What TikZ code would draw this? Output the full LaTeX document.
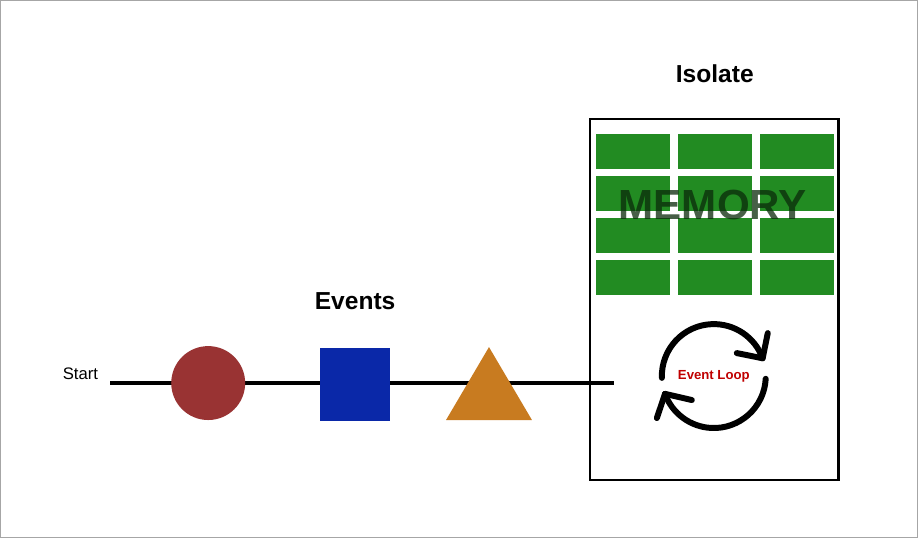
\documentclass[tikz,border=0pt]{standalone}
\usepackage{fontspec}
\setmainfont{Liberation Sans}
\usetikzlibrary{shapes.geometric}
\definecolor{evred}{HTML}{993333}
\definecolor{evblue}{HTML}{0A28A8}
\definecolor{evorange}{HTML}{C87B20}
\definecolor{memgreen}{HTML}{228B22}
\definecolor{loopred}{HTML}{C00000}
\tikzset{
  title/.style={font=\bfseries\fontsize{14}{16}\selectfont},
  cell/.style={fill=memgreen,draw=none,minimum width=1.48cm,minimum height=0.7cm,inner sep=0pt},
  loop/.style={line width=3.4pt,line cap=round,line join=round}
}
\begin{document}
\begin{tikzpicture}[x=0.02cm,y=0.02cm]
\draw[gray!70,fill=white] (0,0) rectangle (918,537);
% timeline
\coordinate (start) at (110,154);
\coordinate (stop) at (614,154);
\draw[line width=2.3pt] (start) -- (stop);
\node[anchor=east,font=\fontsize{9.5}{11}\selectfont] (startlbl) at (104,163) {Start};
\node[circle,fill=evred,minimum size=1.48cm,inner sep=0pt] (ev1) at (208,154) {};
\node[rectangle,fill=evblue,minimum width=1.4cm,minimum height=1.46cm,inner sep=0pt] (ev2) at (355,153) {};
\fill[evorange] (446,117) -- (532,117) -- (489,190) -- cycle;
\node[title] (events) at (355,236) {Events};
% isolate
\node[title] (isolate) at (715,464) {Isolate};
\draw[line width=1.4pt] (590,57) rectangle (839,418);
\foreach \col [count=\i] in {633,715,797}
  \foreach \row [count=\j] in {386,344,302,260}
    \node[cell] (m\i\j) at (\col,\row) {};
\node[font=\bfseries\fontsize{24}{28}\selectfont,text=black!70!memgreen,opacity=0.75] (memory) at (713,332) {MEMORY};
% event loop
\coordinate (lc) at (714,161);
\draw[loop] (lc) ++(182:52) arc[start angle=182,end angle=20,radius=52] coordinate (tipA);
\draw[loop] (737,184) -- (tipA) -- (768,204);
\draw[loop] (lc) ++(-3:52) arc[start angle=-3,end angle=-160,radius=52] coordinate (tipB);
\draw[loop] (692,137) -- (tipB) -- (657,119);
\node[font=\bfseries\fontsize{7.5}{9}\selectfont,text=loopred] (looplbl) at (lc) {Event Loop};
\end{tikzpicture}
\end{document}
